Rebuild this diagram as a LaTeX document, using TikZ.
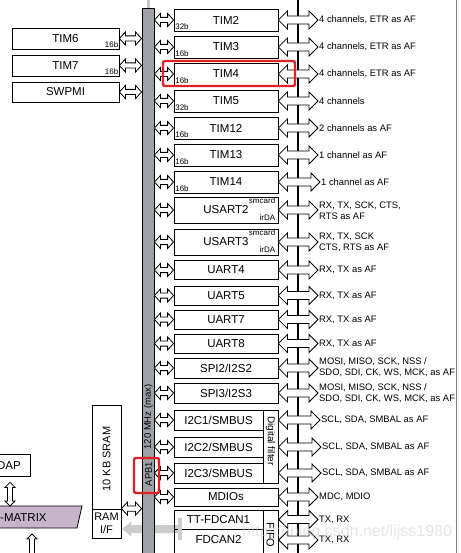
\documentclass[tikz,border=0pt]{standalone}
\usepackage{fontspec}
\setmainfont{Liberation Sans}
\usetikzlibrary{calc}
\definecolor{busgray}{RGB}{158,162,166}
\definecolor{mauve}{RGB}{198,180,200}
\definecolor{redmark}{RGB}{226,32,38}
\definecolor{lightgr}{RGB}{204,204,204}
\definecolor{topgr}{RGB}{190,198,208}
\newcommand\hdarrow[5]{\draw[arrowline] let \p1=(#1), \p2=(#2) in (\x1,\y1) -- (\x1+#3,\y1+#4) -- (\x1+#3,\y1+#5) -- (\x2-#3,\y1+#5) -- (\x2-#3,\y1+#4) -- (\x2,\y1) -- (\x2-#3,\y1-#4) -- (\x2-#3,\y1-#5) -- (\x1+#3,\y1-#5) -- (\x1+#3,\y1-#4) -- cycle;}
\newcommand\vdarrow[5]{\draw[arrowline] let \p1=(#1), \p2=(#2) in (\x1,\y1) -- (\x1+#4,\y1-#3) -- (\x1+#5,\y1-#3) -- (\x1+#5,\y2+#3) -- (\x1+#4,\y2+#3) -- (\x1,\y2) -- (\x1-#4,\y2+#3) -- (\x1-#5,\y2+#3) -- (\x1-#5,\y1-#3) -- (\x1-#4,\y1-#3) -- cycle;}
\begin{document}
\begin{tikzpicture}[x=1pt,y=-1pt,
  box/.style={draw, line width=0.8pt, inner sep=0pt, font=\fontsize{11.5}{13}\selectfont},
  lbl/.style={inner sep=0pt, font=\fontsize{11.5}{13}\selectfont},
  sub/.style={inner sep=0pt, font=\fontsize{8}{9}\selectfont},
  af/.style={anchor=west, inner sep=1pt, align=left, font=\fontsize{9.4}{11}\selectfont},
  arrowline/.style={draw, fill=white, line width=0.8pt, line join=miter},
  redbox/.style={draw=redmark, line width=2.4pt, rounded corners=2pt}]
\useasboundingbox (0,0) rectangle (460,553);

% right border
\draw[gray, line width=1pt] (456,0) -- (456,553);

% SRAM and RAM I/F
\node[box, minimum width=29pt, minimum height=104pt] (sram) at (106.5,457) {};
\node[rotate=90, inner sep=0pt, font=\fontsize{11}{12}\selectfont] (sramt) at (106.5,459) {10 KB SRAM};
\node[box, minimum width=29pt, minimum height=29pt, align=center, font=\fontsize{11}{12.5}\selectfont] (ramif) at (106.5,523.5) {RAM\\I/F};

% gray arrow (behind bus)
\coordinate (fdtail) at (180,529);
\fill[lightgr] let \p1=(fdtail), \p2=(ramif.east) in (\x1,\y1+4pt) -- (\x2+10pt,\y1+4pt) -- (\x2+10pt,\y1+7.5pt) -- (\x2+0.7pt,\y1) -- (\x2+10pt,\y1-7.5pt) -- (\x2+10pt,\y1-4pt) -- (\x1,\y1-4pt) -- cycle;

% bus
\node[draw, line width=0.9pt, fill=busgray, minimum width=12pt, minimum height=560pt, anchor=north, inner sep=0pt] (bus) at (148,8) {};
\draw[topgr, line width=3pt] (148,0) -- (bus.north);
\node[rotate=90, inner sep=0pt, font=\fontsize{9.5}{10}\selectfont] (mhz) at (148.5,417) {120 MHz (max)};
\node[rotate=90, inner sep=0pt, font=\fontsize{9.5}{10}\selectfont] (apb) at (148.5,474) {APB1};

% left boxes
\node[box, minimum width=107pt, minimum height=21pt] (tim6) at (65.5,38.5) {TIM6};
\node[sub, anchor=south east] (tim6b) at ($(tim6.south east)+(-1,-2)$) {16b};
\node[box, minimum width=107pt, minimum height=21pt] (tim7) at (65.5,65.5) {TIM7};
\node[sub, anchor=south east] (tim7b) at ($(tim7.south east)+(-1,-2)$) {16b};
\node[box, minimum width=107pt, minimum height=20pt] (swpmi) at (65.5,92) {SWPMI};

% DAP and matrix
\node[draw, line width=0.8pt, minimum width=40pt, minimum height=22pt, inner sep=0pt] (dap) at (10,465) {};
\node[lbl, anchor=east] (dapt) at (21,465.5) {DAP};
\draw[line width=0.8pt, fill=mauve] (-5,506) -- (82,506) -- (77,528) -- (-5,528) -- cycle;
\node[lbl, anchor=west] (matrix) at (0,517.5) {-MATRIX};
\coordinate (mtop) at (10,506);
\coordinate (mbot) at (32,534);
\coordinate (below) at (32,566);
\vdarrow{$(dap.south)+(0,6)$}{mtop}{5pt}{5pt}{2.5pt}
\vdarrow{mbot}{below}{5pt}{5pt}{2.5pt}

% right boxes
\node[box, minimum width=104pt, minimum height=22pt] (tim2) at (226,20) {TIM2};
\node[box, minimum width=104pt, minimum height=22pt] (tim3) at (226,47) {TIM3};
\node[box, minimum width=104pt, minimum height=22pt] (tim4) at (226,74) {TIM4};
\node[box, minimum width=104pt, minimum height=22pt] (tim5) at (226,101) {TIM5};
\node[box, minimum width=104pt, minimum height=22pt] (tim12) at (226,128) {TIM12};
\node[box, minimum width=104pt, minimum height=22pt] (tim13) at (226,155) {TIM13};
\node[box, minimum width=104pt, minimum height=22pt] (tim14) at (226,182) {TIM14};
\node[sub, anchor=south west] (tim2b) at ($(tim2.south west)+(1.5,-2)$) {32b};
\node[sub, anchor=south west] (tim3b) at ($(tim3.south west)+(1.5,-2)$) {16b};
\node[sub, anchor=south west] (tim4b) at ($(tim4.south west)+(1.5,-2)$) {16b};
\node[sub, anchor=south west] (tim5b) at ($(tim5.south west)+(1.5,-2)$) {32b};
\node[sub, anchor=south west] (tim12b) at ($(tim12.south west)+(1.5,-2)$) {16b};
\node[sub, anchor=south west] (tim13b) at ($(tim13.south west)+(1.5,-2)$) {16b};
\node[sub, anchor=south west] (tim14b) at ($(tim14.south west)+(1.5,-2)$) {16b};
\node[box, minimum width=104pt, minimum height=26pt] (usart2) at (226,210) {USART2};
\node[sub, anchor=north east] (u2s) at ($(usart2.north east)+(-3,1)$) {smcard};
\node[sub, anchor=south east] (u2i) at ($(usart2.south east)+(-3,-2.5)$) {irDA};
\node[box, minimum width=104pt, minimum height=26pt] (usart3) at (226,242) {USART3};
\node[sub, anchor=north east] (u3s) at ($(usart3.north east)+(-3,1)$) {smcard};
\node[sub, anchor=south east] (u3i) at ($(usart3.south east)+(-3,-2.5)$) {irDA};
\node[box, minimum width=104pt, minimum height=19pt] (uart4) at (226,270) {UART4};
\node[box, minimum width=104pt, minimum height=19pt] (uart5) at (226,295.5) {UART5};
\node[box, minimum width=104pt, minimum height=19pt] (uart7) at (226,319.5) {UART7};
\node[box, minimum width=104pt, minimum height=19pt] (uart8) at (226,343.5) {UART8};
\node[box, minimum width=104pt, minimum height=20pt] (spi2) at (226,368) {SPI2/I2S2};
\node[box, minimum width=104pt, minimum height=20pt] (spi3) at (226,393) {SPI3/I2S3};
\node[box, minimum width=89pt, minimum height=20pt] (i2c1) at (218.5,420) {I2C1/SMBUS};
\node[box, minimum width=89pt, minimum height=20pt] (i2c2) at (218.5,447) {I2C2/SMBUS};
\node[box, minimum width=89pt, minimum height=20pt] (i2c3) at (218.5,473) {I2C3/SMBUS};
\node[box, minimum width=15pt, minimum height=73pt] (filt) at (270.5,446.5) {};
\node[rotate=-90, inner sep=0pt, font=\fontsize{10}{11}\selectfont] (filtt) at (270.5,441) {Digital filter};
\node[box, minimum width=104pt, minimum height=18pt] (mdio) at (226,497) {MDIOs};

% FDCAN group
\node[box, minimum width=104pt, minimum height=50pt, anchor=north west] (fdbox) at (174,510) {};
\draw[line width=0.8pt] ($(fdbox.north west)+(89,0)$) -- ($(fdbox.south west)+(89,0)$);
\draw[line width=0.8pt] (fdbox.west |- 0,529) -- (263,529);
\node[lbl] (fd1) at (218.5,519.5) {TT-FDCAN1};
\node[lbl] (fd2) at (218.5,540) {FDCAN2};
\node[rotate=-90, inner sep=0pt, font=\fontsize{11}{12}\selectfont] (fifo) at (270.5,535) {FIFO};
\fill[lightgr] (178,518) rectangle (182,540);

% left arrows
\hdarrow{tim6.east}{bus.west |- tim6.east}{6pt}{6.5pt}{2.6pt}
\hdarrow{tim7.east}{bus.west |- tim7.east}{6pt}{6.5pt}{2.6pt}
\hdarrow{swpmi.east}{bus.west |- swpmi.east}{6pt}{6.5pt}{2.6pt}
\hdarrow{ramif.north east}{bus.west |- ramif.north east}{6pt}{6.5pt}{2.6pt}
\foreach \bx in {tim2,tim3,tim4,tim5,tim12,tim13,tim14,usart2,usart3,uart4,uart5,uart7,uart8,spi2,spi3,i2c1,i2c2,i2c3,mdio}{
  \hdarrow{bus.east |- \bx.west}{\bx.west}{6pt}{6.5pt}{2.6pt}
}

% AF texts
\node[af] (t2) at (318,20) {4 channels, ETR as AF};
\node[af] (t3) at (318,47) {4 channels, ETR as AF};
\node[af] (t4) at (318,74) {4 channels, ETR as AF};
\node[af] (t5) at (318,101) {4 channels};
\node[af] (t12) at (318,128) {2 channels as AF};
\node[af] (t13) at (318,155) {1 channel as AF};
\node[af] (t14) at (320,182) {1 channel as AF};
\node[af] (tu2) at (318,210.5) {RX, TX, SCK, CTS,\\RTS as AF};
\node[af] (tu3) at (318,242) {RX, TX, SCK\\CTS, RTS as AF};
\node[af] (tu4) at (318,270) {RX, TX as AF};
\node[af] (tu5) at (318,295.5) {RX, TX as AF};
\node[af] (tu7) at (318,319.5) {RX, TX as AF};
\node[af] (tu8) at (318,343.5) {RX, TX as AF};
\node[af] (ts2) at (318,367.5) {MOSI, MISO, SCK, NSS /\\SDO, SDI, CK, WS, MCK, as AF};
\node[af] (ts3) at (318,393) {MOSI, MISO, SCK, NSS /\\SDO, SDI, CK, WS, MCK, as AF};
\node[af] (ti1) at (320,420) {SCL, SDA, SMBAL as AF};
\node[af] (ti2) at (321,447) {SCL, SDA, SMBAL as AF};
\node[af] (ti3) at (321,473) {SCL, SDA, SMBAL as AF};
\node[af] (tm) at (318,497) {MDC, MDIO};
\node[af] (tf1) at (318,519.5) {TX, RX};
\node[af] (tf2) at (318,540) {TX, RX};

% AF line and right arrows
\coordinate (aft) at (298,0);
\coordinate (afb) at (298,553);
\draw[line width=1.5pt] (aft) -- (afb);
\foreach \bx/\tx in {tim2/t2,tim3/t3,tim4/t4,tim5/t5,tim12/t12,tim13/t13,tim14/t14,usart2/tu2,usart3/tu3,uart4/tu4,uart5/tu5,uart7/tu7,uart8/tu8,spi2/ts2,spi3/ts3,mdio/tm}{
  \hdarrow{\bx.east}{\bx.east -| \tx.west}{9pt}{9pt}{4pt}
}
\foreach \bx/\tx in {i2c1/ti1,i2c2/ti2,i2c3/ti3}{
  \hdarrow{filt.east |- \bx.east}{\bx.east -| \tx.west}{9pt}{9pt}{4pt}
}
\hdarrow{fdbox.east |- fd1.center}{fd1.center -| tf1.west}{9pt}{9pt}{4pt}
\hdarrow{fdbox.east |- fd2.center}{fd2.center -| tf2.west}{9pt}{9pt}{4pt}

% red marks
\draw[redbox] (163,61) rectangle (295,86);
\draw[redbox] (134,458) rectangle (159,493);

% watermark
\node[inner sep=0pt, font=\fontsize{16}{16}\selectfont, text=gray!40, opacity=0.5] (wm) at (347,532) {https://blog.csdn.net/lijss1980};
\end{tikzpicture}
\end{document}
